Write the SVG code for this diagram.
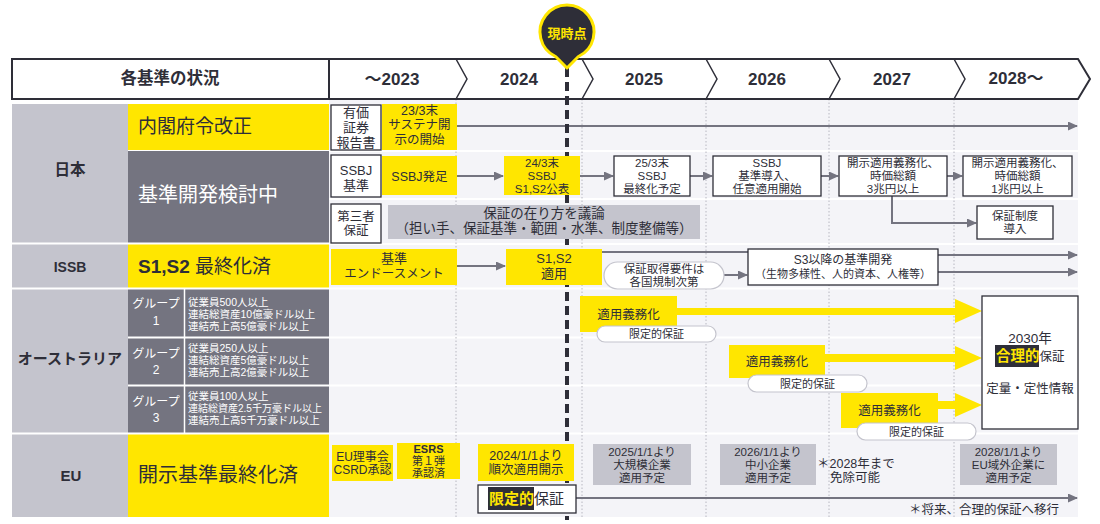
<svg xmlns="http://www.w3.org/2000/svg" width="1100" height="524" viewBox="0 0 1100 524">
<defs>
<style>
text{font-family:"Liberation Sans","Noto Sans CJK JP",sans-serif;fill:#2e2e38}
.c{text-anchor:middle}
.b{font-weight:bold}
.s125{font-size:12.5px}
.s115{font-size:11.5px}
.s13{font-size:13px}
.s11{font-size:11px}
.wt{fill:#ffffff}
.yel{fill:#ffe600}
.dk{fill:#2e2e38}
.mg{fill:#747480}
.lg{fill:#c4c4cd}
.wbox{fill:#ffffff;stroke:#2e2e38;stroke-width:1.3}
.pill{fill:#ffffff;stroke:#c4c4cd;stroke-width:1.2}
.conn{stroke:#747480;stroke-width:2;fill:none}
.sep{stroke:#ffffff;stroke-width:2}
.grid{stroke:#a8a8b2;stroke-width:0.8;stroke-dasharray:1.5 2}
</style>
<marker id="ah" markerUnits="userSpaceOnUse" markerWidth="10" markerHeight="9" refX="9" refY="4.5" orient="auto">
<path d="M0,0 L10,4.5 L0,9 Z" fill="#747480"/>
</marker>
</defs>

<!-- background -->
<rect x="0" y="0" width="1100" height="524" fill="#ffffff"/>
<rect x="329" y="100" width="749" height="417" fill="#f4f4f8"/>
<g>
<line class="sep" x1="329" y1="151" x2="1078" y2="151"/>
<line class="sep" x1="329" y1="199" x2="1078" y2="199"/>
<line class="sep" x1="329" y1="244" x2="1078" y2="244"/>
<line class="sep" x1="329" y1="288.5" x2="1078" y2="288.5"/>
<line class="sep" x1="329" y1="337.5" x2="1078" y2="337.5"/>
<line class="sep" x1="329" y1="385.5" x2="1078" y2="385.5"/>
<line class="sep" x1="329" y1="433.5" x2="1078" y2="433.5"/>
<line class="grid" x1="456" y1="99" x2="456" y2="517"/>
<line class="grid" x1="582" y1="99" x2="582" y2="517"/>
<line class="grid" x1="706" y1="99" x2="706" y2="517"/>
<line class="grid" x1="829" y1="99" x2="829" y2="517"/>
<line class="grid" x1="954" y1="99" x2="954" y2="517"/>
</g>

<!-- header -->
<g id="header">
<path d="M12,59 L1078,59 L1090,79 L1078,99 L12,99 Z" fill="#ffffff" stroke="#2e2e38" stroke-width="2"/>
<line x1="329" y1="59" x2="329" y2="99" stroke="#2e2e38" stroke-width="2"/>
<polyline points="456,59 467,79 456,99" fill="none" stroke="#2e2e38" stroke-width="1.5"/>
<polyline points="582,59 593,79 582,99" fill="none" stroke="#2e2e38" stroke-width="1.5"/>
<polyline points="706,59 717,79 706,99" fill="none" stroke="#2e2e38" stroke-width="1.5"/>
<polyline points="829,59 840,79 829,99" fill="none" stroke="#2e2e38" stroke-width="1.5"/>
<polyline points="954,59 965,79 954,99" fill="none" stroke="#2e2e38" stroke-width="1.5"/>
<text class="c b" x="170" y="84" font-size="16.5">各基準の状況</text>
<text class="c b" x="392" y="85" font-size="17">～2023</text>
<text class="c b" x="519" y="85" font-size="17">2024</text>
<text class="c b" x="644" y="85" font-size="17">2025</text>
<text class="c b" x="767" y="85" font-size="17">2026</text>
<text class="c b" x="892" y="85" font-size="17">2027</text>
<text class="c b" x="1016" y="84" font-size="17">2028～</text>
</g>

<!-- left label column -->
<g id="left-labels">
<rect x="12" y="104" width="116" height="413" class="lg"/>
<rect x="128" y="104" width="201" height="46" class="yel"/>
<rect x="128" y="151" width="201" height="92" class="mg"/>
<rect x="128" y="244" width="201" height="44" class="yel"/>
<rect x="128" y="289" width="201" height="48" class="mg"/>
<rect x="128" y="338" width="201" height="47" class="mg"/>
<rect x="128" y="386" width="201" height="47" class="mg"/>
<rect x="128" y="434" width="201" height="83" class="yel"/>
<line class="sep" x1="12" y1="243.5" x2="329" y2="243.5"/>
<line class="sep" x1="12" y1="288.5" x2="329" y2="288.5"/>
<line class="sep" x1="128" y1="337.5" x2="329" y2="337.5"/>
<line class="sep" x1="128" y1="385.5" x2="329" y2="385.5"/>
<line class="sep" x1="12" y1="433.5" x2="329" y2="433.5"/>
<line x1="184.5" y1="289" x2="184.5" y2="433" stroke="#ffffff" stroke-width="1.5"/>
<text class="c b" x="70" y="175" font-size="15.5">日本</text>
<text class="c b" x="70" y="272" font-size="14">ISSB</text>
<text class="c b" x="70" y="364" font-size="15">オーストラリア</text>
<text class="c b" x="71" y="481" font-size="15">EU</text>
<text x="138" y="133" font-size="19">内閣府令改正</text>
<text class="wt" x="138" y="202" font-size="20">基準開発検討中</text>
<text x="138" y="273" font-size="19"><tspan font-weight="bold">S1,S2</tspan> 最終化済</text>
<text x="138" y="482" font-size="20">開示基準最終化済</text>
<g font-size="10.5">
<text class="c wt" x="156" y="308" font-size="12">グループ</text>
<text class="c wt" x="156" y="325" font-size="12">1</text>
<text class="wt" x="188" y="306">従業員500人以上</text>
<text class="wt" x="188" y="317.8">連結総資産10億豪ドル以上</text>
<text class="wt" x="188" y="329.6">連結売上高5億豪ドル以上</text>
<text class="c wt" x="156" y="358" font-size="12">グループ</text>
<text class="c wt" x="156" y="374" font-size="12">2</text>
<text class="wt" x="188" y="352">従業員250人以上</text>
<text class="wt" x="188" y="364">連結総資産5億豪ドル以上</text>
<text class="wt" x="188" y="376">連結売上高2億豪ドル以上</text>
<text class="c wt" x="156" y="406" font-size="12">グループ</text>
<text class="c wt" x="156" y="422" font-size="12">3</text>
<text class="wt" x="188" y="400">従業員100人以上</text>
<text class="wt" x="188" y="412" font-size="10">連結総資産2.5千万豪ドル以上</text>
<text class="wt" x="188" y="424">連結売上高5千万豪ドル以上</text>
</g>
</g>

<!-- connectors -->
<g id="connectors">
<line class="conn" x1="457" y1="126" x2="1077" y2="126" marker-end="url(#ah)"/>
<line class="conn" x1="457" y1="176" x2="503" y2="176" marker-end="url(#ah)"/>
<line class="conn" x1="580" y1="176" x2="613" y2="176" marker-end="url(#ah)"/>
<line class="conn" x1="690" y1="176" x2="712" y2="176" marker-end="url(#ah)"/>
<line class="conn" x1="821" y1="176" x2="838" y2="176" marker-end="url(#ah)"/>
<line class="conn" x1="947" y1="176" x2="962" y2="176" marker-end="url(#ah)"/>
<polyline class="conn" points="892,196 892,223 976,223" marker-end="url(#ah)"/>
<line class="conn" x1="457" y1="266" x2="505" y2="266" marker-end="url(#ah)"/>
<line class="conn" x1="602" y1="252" x2="748" y2="252"/>
<line class="conn" x1="938" y1="255" x2="1077" y2="255" marker-end="url(#ah)"/>
<line class="conn" x1="938" y1="272" x2="1077" y2="272" marker-end="url(#ah)"/>
<line class="conn" x1="724" y1="275" x2="747" y2="275" marker-end="url(#ah)"/>
<line class="conn" x1="576" y1="498" x2="1077" y2="498" marker-end="url(#ah)"/>
<path class="yel" d="M677,308 L955,308 L955,299 L982,311 L955,323 L955,315 L677,315 Z"/>
<path class="yel" d="M825,354 L955,354 L955,346 L982,358 L955,370 L955,362 L825,362 Z"/>
<path class="yel" d="M938,401 L955,401 L955,393 L982,405 L955,417 L955,409 L938,409 Z"/>
</g>

<!-- now marker -->
<g id="now">
<line x1="567" y1="68" x2="567" y2="520" stroke="#2e2e38" stroke-width="4" stroke-dasharray="9 5"/>
<path d="M578.4,56.5 A27,27 0 1 0 555.6,56.5 L567,68 Z" fill="#2e2e38" stroke="#ffe600" stroke-width="3" stroke-linejoin="round"/>
<text class="c b yel" x="567" y="37.5" font-size="13">現時点</text>
</g>

<!-- Japan nodes -->
<g id="n-yuho">
<rect class="wbox" x="331" y="105" width="50" height="45"/>
<text class="c s13" x="356" y="116.5">有価</text>
<text class="c s13" x="356" y="131.5">証券</text>
<text class="c s13" x="356" y="146.5">報告書</text>
</g>
<g id="n-2303">
<rect class="yel" x="382" y="104" width="75" height="46"/>
<text class="c s125" x="419.5" y="114.5">23/3末</text>
<text class="c s125" x="419.5" y="129">サステナ開</text>
<text class="c s125" x="419.5" y="143.5">示の開始</text>
</g>
<g id="n-ssbj-std">
<rect class="wbox" x="331" y="155" width="50" height="42"/>
<text class="c s13" x="356" y="174.5">SSBJ</text>
<text class="c s13" x="356" y="189.5">基準</text>
</g>
<g id="n-ssbj-start">
<rect class="yel" x="382" y="156" width="75" height="39"/>
<text class="c s125" x="419.5" y="180.5">SSBJ発足</text>
</g>
<g id="n-2403">
<rect class="yel" x="504" y="156" width="76" height="39"/>
<text class="c s115" x="542" y="167">24/3末</text>
<text class="c s115" x="542" y="180">SSBJ</text>
<text class="c s115" x="542" y="193">S1,S2公表</text>
</g>
<g id="n-2503">
<rect class="wbox" x="614" y="156" width="76" height="40"/>
<text class="c s115" x="652" y="167">25/3末</text>
<text class="c s115" x="652" y="180">SSBJ</text>
<text class="c s115" x="652" y="193">最終化予定</text>
</g>
<g id="n-intro">
<rect class="wbox" x="713" y="156" width="108" height="40"/>
<text class="c s115" x="767" y="167">SSBJ</text>
<text class="c s115" x="767" y="180">基準導入、</text>
<text class="c s115" x="767" y="193">任意適用開始</text>
</g>
<g id="n-3cho">
<rect class="wbox" x="839" y="156" width="108" height="40"/>
<text class="c s115" x="893" y="167">開示適用義務化、</text>
<text class="c s115" x="893" y="180">時価総額</text>
<text class="c s115" x="893" y="193">3兆円以上</text>
</g>
<g id="n-1cho">
<rect class="wbox" x="963" y="156" width="109" height="40"/>
<text class="c s115" x="1017.5" y="167">開示適用義務化、</text>
<text class="c s115" x="1017.5" y="180">時価総額</text>
<text class="c s115" x="1017.5" y="193">1兆円以上</text>
</g>
<g id="n-3rd">
<rect class="wbox" x="331" y="204" width="50" height="39"/>
<text class="c s125" x="356" y="221">第三者</text>
<text class="c s125" x="356" y="235">保証</text>
</g>
<g id="n-discuss">
<rect class="lg" x="388" y="205" width="312" height="34"/>
<text class="c" x="544" y="217.5" font-size="13.5">保証の在り方を議論</text>
<text class="c" x="544" y="233" font-size="13.5">（担い手、保証基準・範囲・水準、制度整備等）</text>
</g>
<g id="n-assure">
<rect class="wbox" x="977" y="206" width="76" height="33"/>
<text class="c s115" x="1015" y="220">保証制度</text>
<text class="c s115" x="1015" y="233">導入</text>
</g>

<!-- ISSB nodes -->
<g id="n-endorse">
<rect class="yel" x="331" y="249" width="126" height="36"/>
<text class="c s13" x="394" y="262.5">基準</text>
<text class="c s125" x="394" y="277.5">エンドースメント</text>
</g>
<g id="n-s1s2">
<rect class="yel" x="506" y="249" width="96" height="36"/>
<text class="c s13" x="554" y="262.5">S1,S2</text>
<text class="c s13" x="554" y="277.5">適用</text>
</g>
<g id="n-req">
<rect class="pill" x="604" y="262" width="120" height="27" rx="13.5"/>
<text class="c s115" x="664" y="273">保証取得要件は</text>
<text class="c s115" x="664" y="286">各国規制次第</text>
</g>
<g id="n-s3">
<rect class="wbox" x="748" y="249" width="190" height="36"/>
<text class="c" x="843" y="264" font-size="12">S3以降の基準開発</text>
<text class="c" x="843" y="278" font-size="11">（生物多様性、人的資本、人権等）</text>
</g>

<!-- Australia nodes -->
<g id="n-au1">
<rect class="yel" x="580" y="296" width="97" height="36"/>
<text class="c s125" x="628.5" y="318.5">適用義務化</text>
<rect class="pill" x="597" y="326" width="119" height="16" rx="8"/>
<text class="c s11" x="656.5" y="338">限定的保証</text>
</g>
<g id="n-au2">
<rect class="yel" x="729" y="345" width="96" height="33"/>
<text class="c s125" x="777" y="366">適用義務化</text>
<rect class="pill" x="748" y="375" width="119" height="17" rx="8.5"/>
<text class="c s11" x="807.5" y="387.5">限定的保証</text>
</g>
<g id="n-au3">
<rect class="yel" x="841" y="393" width="97" height="35"/>
<text class="c s125" x="889.5" y="414.5">適用義務化</text>
<rect class="pill" x="857" y="423" width="119" height="17" rx="8.5"/>
<text class="c s11" x="916.5" y="435.5">限定的保証</text>
</g>
<g id="n-2030">
<rect class="wbox" x="982" y="296" width="96" height="133"/>
<text class="c" x="1030" y="343" font-size="13.5">2030年</text>
<rect class="dk" x="995" y="345" width="44" height="22"/>
<text x="996" y="361"><tspan class="b yel" font-size="14.5">合理的</tspan><tspan font-size="12.5">保証</tspan></text>
<text class="c s125" x="1030" y="392.5">定量・定性情報</text>
</g>

<!-- EU nodes -->
<g id="n-eu-council">
<rect class="yel" x="332" y="445" width="61" height="36"/>
<text class="c" x="362.5" y="460.5" font-size="12">EU理事会</text>
<text class="c" x="362.5" y="474" font-size="12">CSRD承認</text>
</g>
<g id="n-esrs">
<rect class="yel" x="397" y="443" width="63" height="36"/>
<text class="c s11 b" x="428.5" y="452.7">ESRS</text>
<text class="c s11" x="428.5" y="465">第１弾</text>
<text class="c s11" x="428.5" y="477.3">承認済</text>
</g>
<g id="n-eu2024">
<rect class="yel" x="478" y="444" width="96" height="37"/>
<text class="c s125" x="526" y="460">2024/1/1より</text>
<text class="c s125" x="526" y="474">順次適用開示</text>
</g>
<g id="n-eu-limited">
<rect class="wbox" x="478" y="485" width="98" height="28"/>
<rect class="dk" x="488" y="487" width="46" height="23"/>
<text x="489" y="504" font-size="15"><tspan class="b yel">限定的</tspan><tspan>保証</tspan></text>
</g>
<g id="n-eu2025">
<rect class="lg" x="593" y="444" width="98" height="41"/>
<text class="c s115" x="642" y="455.5">2025/1/1より</text>
<text class="c s115" x="642" y="468.5">大規模企業</text>
<text class="c s115" x="642" y="481.5">適用予定</text>
</g>
<g id="n-eu2026">
<rect class="lg" x="720" y="444" width="96" height="41"/>
<text class="c s115" x="768" y="455.5">2026/1/1より</text>
<text class="c s115" x="768" y="468.5">中小企業</text>
<text class="c s115" x="768" y="481.5">適用予定</text>
</g>
<g id="n-eu-exempt">
<text class="s125" x="817" y="468">＊2028年まで</text>
<text class="s125" x="830" y="482">免除可能</text>
</g>
<g id="n-eu2028">
<rect class="lg" x="960" y="444" width="97" height="41"/>
<text class="c s115" x="1008.5" y="455.5">2028/1/1より</text>
<text class="c s115" x="1008.5" y="468.5">EU域外企業に</text>
<text class="c s115" x="1008.5" y="481.5">適用予定</text>
</g>
<g id="n-eu-note">
<text class="s125" x="1059" y="514" text-anchor="end">＊将来、合理的保証へ移行</text>
</g>
</svg>
